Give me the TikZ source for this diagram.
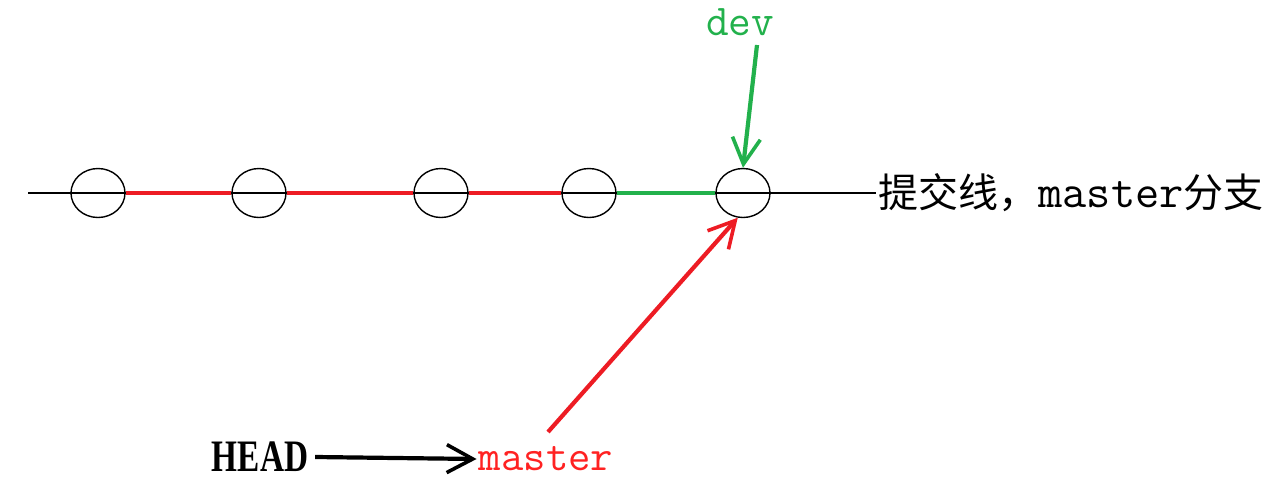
\documentclass[tikz,border=0pt]{standalone}
\usepackage{fontspec}
\setmainfont{Liberation Serif}
\newfontfamily\cjk{Noto Sans CJK SC}
\newfontfamily\headfont[FakeStretch=0.74]{Liberation Serif Bold}
\usetikzlibrary{shapes.geometric, arrows.meta, positioning}
\definecolor{paintred}{HTML}{ED1C24}
\definecolor{paintgreen}{HTML}{22B14C}
\definecolor{textred}{HTML}{FF2222}

\begin{document}
\begin{tikzpicture}[x=0.5pt, y=-0.5pt,
    commit/.style={ellipse, draw=black, line width=0.7pt, minimum width=27pt, minimum height=24.5pt, inner sep=0pt},
    pointer/.style={line width=2.1pt, -{Straight Barb[length=13pt, width=14pt, line width=1.8pt]}}]
        \useasboundingbox (0,0) rectangle (1281,493);
        % commit line
        \coordinate (start) at (28,193);
        \node[font=\fontsize{20pt}{24pt}\selectfont, anchor=west, inner sep=1pt] (label) at (876,193)
          {\cjk 提交线，\fontsize{23.5pt}{26pt}\ttfamily master\cjk\fontsize{20pt}{24pt}\selectfont 分支};
        \draw[black, line width=0.75pt] (start) -- (label.west);
        % commits
        \node[commit] (c1) at (98,193) {};
        \node[commit] (c2) at (259,193) {};
        \node[commit] (c3) at (441,193) {};
        \node[commit] (c4) at (589,193) {};
        \node[commit] (c5) at (743,193) {};
        \draw[paintred, line width=2.2pt] (c1.east) -- (c2.west);
        \draw[paintred, line width=2.2pt] (c2.east) -- (c3.west);
        \draw[paintred, line width=2.2pt] (c3.east) -- (c4.west);
        \draw[paintgreen, line width=2.2pt] (c4.east) -- (c5.west);
        % dev branch
        \node[paintgreen, font=\fontsize{22pt}{24pt}\ttfamily] (dev) at (740,22) {dev};
        \coordinate (devtail) at (757,45);
        \draw[pointer, paintgreen] (devtail) -- (c5.north);
        % master and HEAD
        \node[textred, font=\fontsize{21.7pt}{24pt}\ttfamily, inner sep=1pt] (master) at (546,459) {master};
        \node[font=\fontsize{22.5pt}{26pt}\headfont] (head) at (260,457) {HEAD};
        \coordinate (mastertail) at (548,432);
        \draw[pointer, paintred] (mastertail) -- (c5.-102);
        \draw[pointer, black] (head.east) -- (master.west);
      \end{tikzpicture}
\end{document}
